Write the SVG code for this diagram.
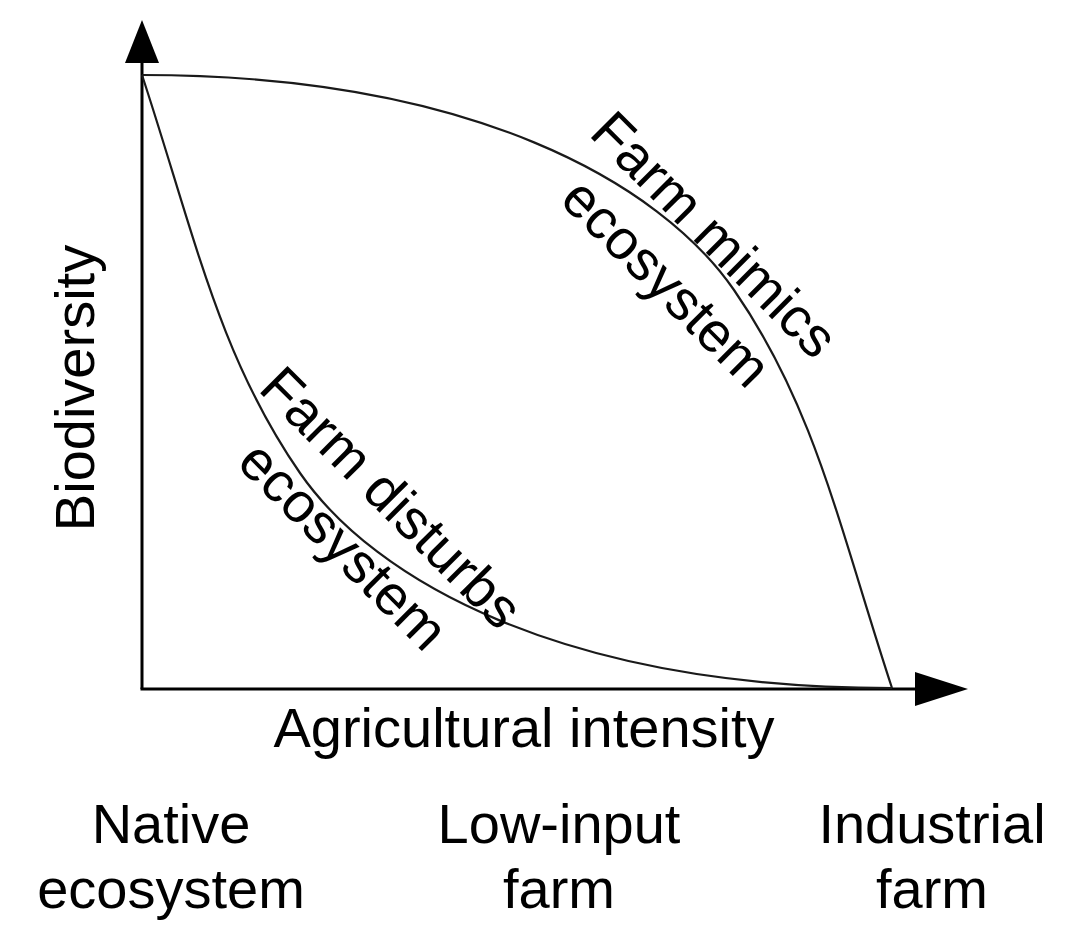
<svg xmlns="http://www.w3.org/2000/svg" width="1080" height="941" viewBox="0 0 1080 941">
<style>
.t{font-family:"Liberation Sans",Arial,sans-serif;font-size:56px;fill:#000}
.m{text-anchor:middle}
.axis{stroke:#000;stroke-width:3;fill:none}
.curve{stroke:#1a1a1a;stroke-width:2.2;fill:none}
.head{fill:#000}
</style>
<rect width="1080" height="941" fill="#fff"/>
<g id="axes">
<line class="axis" x1="142" y1="689" x2="142" y2="60"/>
<line class="axis" x1="140.5" y1="689" x2="918" y2="689"/>
<polygon class="head" points="142,20 159,63 125,63"/>
<polygon class="head" points="968,689 915,672 915,706"/>
</g>
<g id="curves">
<path id="mimics-curve" class="curve" d="M142,75 C472,75 660,183 734,290 C815,407 839,526.5 892,688"/>
<path id="disturbs-curve" class="curve" d="M142,75 C195,236.5 219,356 300,473 C374,580 562,688 892,688"/>
</g>
<g id="label-mimics" transform="translate(701,248) rotate(45)">
<text class="t m" x="0" y="0">Farm mimics</text>
<text class="t m" x="0" y="68">ecosystem</text>
</g>
<g id="label-disturbs" transform="translate(378,511) rotate(45)">
<text class="t m" x="0" y="0">Farm disturbs</text>
<text class="t m" x="0" y="68">ecosystem</text>
</g>
<g id="y-label" transform="translate(94,388) rotate(-90)">
<text class="t m" x="0" y="0">Biodiversity</text>
</g>
<g id="x-label">
<text class="t m" x="524" y="747">Agricultural intensity</text>
</g>
<g id="native">
<text class="t m" x="171" y="843">Native</text>
<text class="t m" x="171" y="908">ecosystem</text>
</g>
<g id="low-input">
<text class="t m" x="559" y="843">Low-input</text>
<text class="t m" x="559" y="908">farm</text>
</g>
<g id="industrial">
<text class="t m" x="932" y="843">Industrial</text>
<text class="t m" x="932" y="908">farm</text>
</g>
</svg>
